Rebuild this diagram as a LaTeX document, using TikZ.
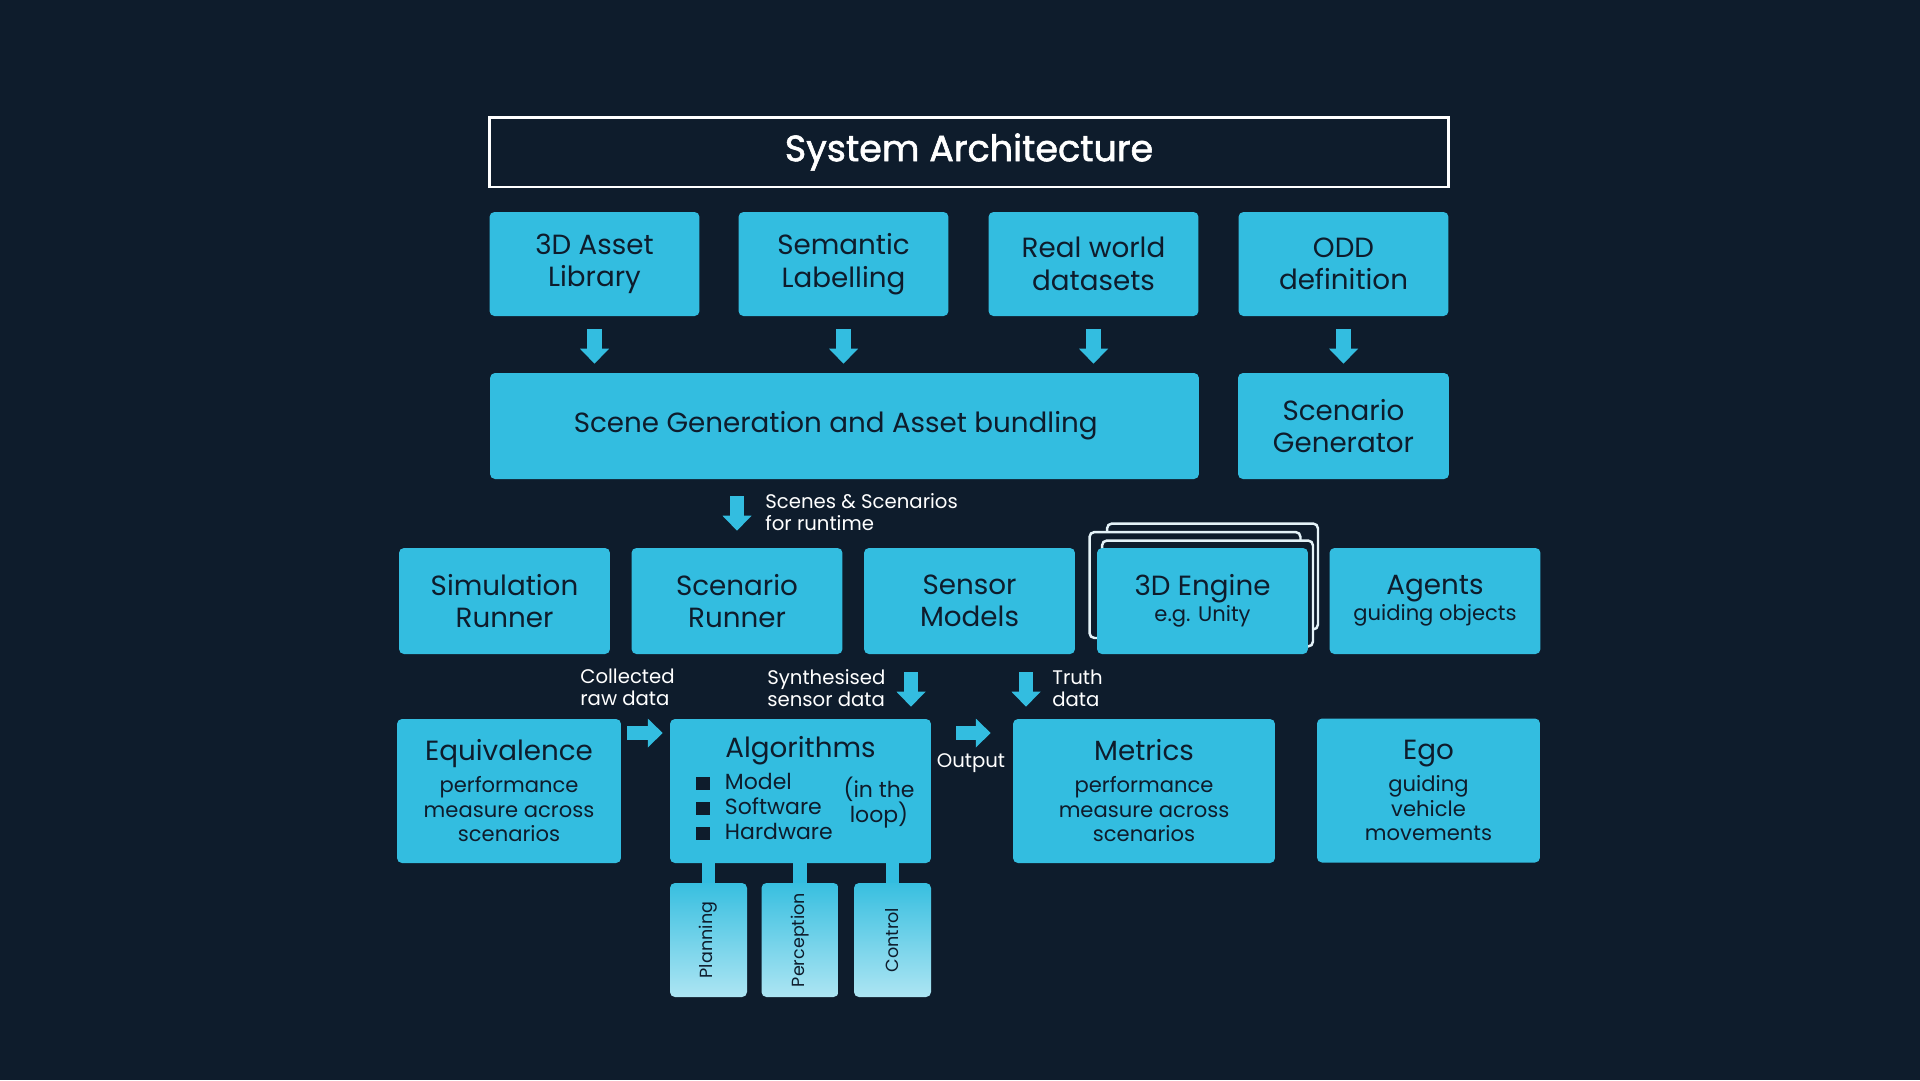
\documentclass[tikz,border=0pt]{standalone}
\usepackage{fontspec}
\usepackage{graphicx}
\setmainfont{Poppins}
\newfontfamily\titlefont{Poppins}[FakeBold=1.6]
\usetikzlibrary{arrows.meta}
\definecolor{bg}{HTML}{0E1C2C}
\definecolor{cyanbox}{HTML}{33BDE0}
\definecolor{ink}{HTML}{0E1C2C}
\definecolor{framec}{HTML}{E4F2F8}
\definecolor{subtop}{HTML}{38BFE0}
\definecolor{subbot}{HTML}{ADE5F3}
\newcommand\bigtxt{\fontsize{15.8}{18.5}\selectfont}
\newcommand\subtxt{\fontsize{12}{14}\selectfont}
\newcommand\lbltxt{\fontsize{11.2}{12.5}\selectfont}
\newcommand\sqbox{\rule[-0.3pt]{7.8pt}{7.8pt}}
\begin{document}
\begin{tikzpicture}[x=0.02cm,y=-0.02cm,
  box/.style={fill=cyanbox, rounded corners=2.8pt, inner sep=0pt, align=center, text=ink, font=\bigtxt},
  boxtwo/.style={box, font=\subtxt},
  frm/.style={fill=bg, draw=framec, line width=1.4pt, rounded corners=2.8pt, inner sep=0pt, minimum width=4.22cm, minimum height=2.12cm},
  subbox/.style={top color=subtop, bottom color=subbot, rounded corners=2.8pt, inner sep=0pt, minimum width=1.54cm, minimum height=2.28cm, text=ink, font=\fontsize{10}{12}\selectfont},
  lbl/.style={text=white, font=\lbltxt, align=left, inner sep=0pt},
  barrow/.style={draw=cyanbox, line width=8.5pt, -{Triangle[width=16.5pt,length=8.5pt,line width=0pt]}},
  stub/.style={draw=cyanbox, line width=7.9pt},
  intext/.style={text=ink, inner sep=0pt}
]
\fill[bg] (0,0) rectangle (1920,1080);

% title
\node[draw=white, line width=1.7pt, inner sep=0pt, minimum width=19.2cm, minimum height=1.4cm,
      text=white, font=\titlefont\fontsize{20.8}{24}\selectfont] (title) at (969,152) {System Architecture};

% row 1
\node[box, minimum width=4.2cm, minimum height=2.08cm] (lib)  at (594.5,264)  {3D Asset\\Library};
\node[box, minimum width=4.2cm, minimum height=2.08cm] (sem)  at (843.5,264)  {Semantic\\Labelling};
\node[box, minimum width=4.2cm, minimum height=2.08cm] (real) at (1093.5,264) {Real world\\datasets};
\node[box, minimum width=4.2cm, minimum height=2.08cm] (odd)  at (1343.5,264) {ODD\\definition};

% row 2
\node[box, minimum width=14.18cm, minimum height=2.12cm] (scene) at (844.5,426) {Scene Generation and Asset bundling\hspace{10pt}};
\node[box, minimum width=4.22cm, minimum height=2.12cm] (gen) at (1343.5,426) {Scenario\\Generator};

\draw[barrow, shorten <=0.26cm, shorten >=0.18cm] (lib.south)  -- (lib.south |- scene.north);
\draw[barrow, shorten <=0.26cm, shorten >=0.18cm] (sem.south)  -- (sem.south |- scene.north);
\draw[barrow, shorten <=0.26cm, shorten >=0.18cm] (real.south) -- (real.south |- scene.north);
\draw[barrow, shorten <=0.26cm, shorten >=0.18cm] (odd.south)  -- (gen.north);

% row 3
\node[box, minimum width=4.22cm, minimum height=2.12cm] (simr)   at (504.5,601) {Simulation\\Runner};
\node[box, minimum width=4.22cm, minimum height=2.12cm] (runner) at (737,601)   {Scenario\\Runner};
\node[box, minimum width=4.22cm, minimum height=2.12cm] (sensor) at (969.5,601) {Sensor\\Models};
\node[frm] (stackA) at (1212.5,576.5) {};
\node[frm] (stackB) at (1195,585) {};
\node[frm] (stackC) at (1207.5,593.5) {};
\node[boxtwo, minimum width=4.22cm, minimum height=2.12cm] (engine) at (1202.5,601) {{\bigtxt 3D Engine}\\[0.7pt]e.g. Unity};
\node[boxtwo, minimum width=4.22cm, minimum height=2.12cm] (agents) at (1435,601)   {{\bigtxt Agents}\\[0.7pt]guiding objects};

\draw[barrow, shorten <=0.34cm, shorten >=0.34cm] (scene.south -| runner) -- (runner.north);
\node[lbl, anchor=west] (lscen) at (765,512) {Scenes \& Scenarios\\for runtime};

% row 4
\node[boxtwo, minimum width=4.48cm, minimum height=2.88cm] (equiv) at (509,791)
  {{\bigtxt Equivalence}\\[4.1pt]performance\\measure across\\scenarios};
\node[box, minimum width=5.22cm, minimum height=2.88cm] (algo) at (800.5,791) {};
\node[boxtwo, minimum width=5.24cm, minimum height=2.88cm] (metrics) at (1144,791)
  {{\bigtxt Metrics}\\[4.1pt]performance\\measure across\\scenarios};
\node[boxtwo, minimum width=4.46cm, minimum height=2.88cm] (ego) at (1428.5,790.5)
  {{\bigtxt Ego}\\[4.1pt]guiding\\vehicle\\movements};

\node[intext, font=\bigtxt] (algt) at (800.5,751) {Algorithms};
\node[intext, font=\fontsize{12.5}{14.2}\selectfont, align=left, anchor=west] (algl) at (696,807)
  {\sqbox\hspace{8.5pt}Model\\\sqbox\hspace{8.5pt}Software\\\sqbox\hspace{8.5pt}Hardware};
\node[intext, font=\fontsize{12.5}{14.2}\selectfont, align=center] (loop) at (879,803) {(in the\\loop)};

% sub boxes
\node[subbox] (plan) at (708.5,940) {\rotatebox{90}{Planning}};
\node[subbox] (perc) at (800,940)   {\rotatebox{90}{Perception}};
\node[subbox] (ctrl) at (892.5,940) {\rotatebox{90}{Control}};
\draw[stub] (algo.south -| plan) -- (plan.north);
\draw[stub] (algo.south -| perc) -- (perc.north);
\draw[stub] (algo.south -| ctrl) -- (ctrl.north);

% labels and arrows between rows 3 and 4
\coordinate (ya) at (0,733);
\coordinate (xs) at (911,0);
\coordinate (xt) at (1026,0);
\node[lbl, anchor=west] (lcoll)  at (580,687)  {Collected\\raw data};
\node[lbl, anchor=west] (lsyn)   at (767,688)  {Synthesised\\sensor data};
\node[lbl, anchor=west] (ltruth) at (1052,688) {Truth\\data};
\node[lbl] (lout) at (971,763) {Output};

\draw[barrow, shorten <=0.12cm, shorten >=0.14cm] (equiv.east |- ya) -- (algo.west |- ya);
\draw[barrow, shorten <=0.5cm, shorten >=0.44cm] (algo.east |- ya) -- (metrics.west |- ya);
\draw[barrow, shorten <=0.36cm, shorten >=0.24cm] (sensor.south -| xs) -- (algo.north -| xs);
\draw[barrow, shorten <=0.36cm, shorten >=0.24cm] (sensor.south -| xt) -- (metrics.north -| xt);
\end{tikzpicture}
\end{document}
